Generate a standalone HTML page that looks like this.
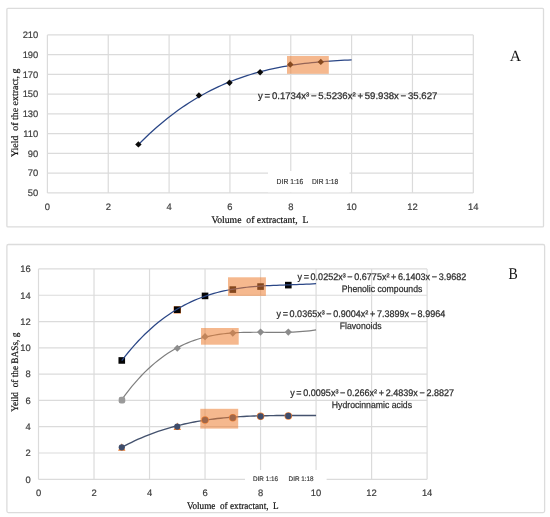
<!DOCTYPE html>
<html lang="en"><head><meta charset="utf-8"><title>Figure</title>
<style>html,body{margin:0;padding:0;background:#fff}body{width:550px;height:517px;overflow:hidden}</style></head>
<body>
<svg width="550" height="517" viewBox="0 0 550 517" style="display:block" text-rendering="geometricPrecision">
<rect width="550" height="517" fill="#fff"/>
<rect x="6.9" y="8.3" width="536.6" height="218.6" rx="1" fill="#fff" stroke="#dcdcdc" stroke-width="1.3"/>
<rect x="6.9" y="244.5" width="537.7" height="268.1" rx="1.5" fill="#fff" stroke="#dcdcdc" stroke-width="1.3"/>
<g stroke="#dbdbdb" stroke-width="1.2" fill="none">
<line x1="47.40" x2="473.30" y1="192.90" y2="192.90"/>
<line x1="47.40" x2="473.30" y1="173.16" y2="173.16"/>
<line x1="47.40" x2="473.30" y1="153.41" y2="153.41"/>
<line x1="47.40" x2="473.30" y1="133.67" y2="133.67"/>
<line x1="47.40" x2="473.30" y1="113.93" y2="113.93"/>
<line x1="47.40" x2="473.30" y1="94.18" y2="94.18"/>
<line x1="47.40" x2="473.30" y1="74.44" y2="74.44"/>
<line x1="47.40" x2="473.30" y1="54.69" y2="54.69"/>
<line x1="47.40" x2="473.30" y1="34.95" y2="34.95"/>
<line x1="47.40" x2="47.40" y1="34.95" y2="192.90"/>
<line x1="108.24" x2="108.24" y1="34.95" y2="192.90"/>
<line x1="169.09" x2="169.09" y1="34.95" y2="192.90"/>
<line x1="229.93" x2="229.93" y1="34.95" y2="192.90"/>
<line x1="290.77" x2="290.77" y1="34.95" y2="192.90"/>
<line x1="351.61" x2="351.61" y1="34.95" y2="192.90"/>
<line x1="412.46" x2="412.46" y1="34.95" y2="192.90"/>
<line x1="473.30" x2="473.30" y1="34.95" y2="192.90"/>
</g>
<g stroke="#dbdbdb" stroke-width="1.2" fill="none">
<line x1="38.50" x2="427.10" y1="479.30" y2="479.30"/>
<line x1="38.50" x2="427.10" y1="453.01" y2="453.01"/>
<line x1="38.50" x2="427.10" y1="426.71" y2="426.71"/>
<line x1="38.50" x2="427.10" y1="400.42" y2="400.42"/>
<line x1="38.50" x2="427.10" y1="374.12" y2="374.12"/>
<line x1="38.50" x2="427.10" y1="347.83" y2="347.83"/>
<line x1="38.50" x2="427.10" y1="321.54" y2="321.54"/>
<line x1="38.50" x2="427.10" y1="295.24" y2="295.24"/>
<line x1="38.50" x2="427.10" y1="268.95" y2="268.95"/>
<line x1="38.50" x2="38.50" y1="268.95" y2="479.30"/>
<line x1="94.01" x2="94.01" y1="268.95" y2="479.30"/>
<line x1="149.53" x2="149.53" y1="268.95" y2="479.30"/>
<line x1="205.04" x2="205.04" y1="268.95" y2="479.30"/>
<line x1="260.56" x2="260.56" y1="268.95" y2="479.30"/>
<line x1="316.07" x2="316.07" y1="268.95" y2="479.30"/>
<line x1="371.59" x2="371.59" y1="268.95" y2="479.30"/>
<line x1="427.10" x2="427.10" y1="268.95" y2="479.30"/>
</g>
<rect x="268" y="171" width="81.5" height="21.3" fill="#fff"/>
<rect x="245" y="470" width="81.6" height="15" fill="#fff"/>
<g font-family='"Liberation Sans", sans-serif' font-size="9.4" fill="#3c3c3c" stroke="#3c3c3c" stroke-width="0.2">
<text transform="translate(38.30,196.10) scale(1,1)" text-anchor="end">50</text>
<text transform="translate(38.30,176.36) scale(1,1)" text-anchor="end">70</text>
<text transform="translate(38.30,156.61) scale(1,1)" text-anchor="end">90</text>
<text transform="translate(38.30,136.87) scale(1,1)" text-anchor="end">110</text>
<text transform="translate(38.30,117.13) scale(1,1)" text-anchor="end">130</text>
<text transform="translate(38.30,97.38) scale(1,1)" text-anchor="end">150</text>
<text transform="translate(38.30,77.64) scale(1,1)" text-anchor="end">170</text>
<text transform="translate(38.30,57.89) scale(1,1)" text-anchor="end">190</text>
<text transform="translate(38.30,38.15) scale(1,1)" text-anchor="end">210</text>
<text transform="translate(47.40,209.50) scale(1,1)" text-anchor="middle">0</text>
<text transform="translate(108.24,209.50) scale(1,1)" text-anchor="middle">2</text>
<text transform="translate(169.09,209.50) scale(1,1)" text-anchor="middle">4</text>
<text transform="translate(229.93,209.50) scale(1,1)" text-anchor="middle">6</text>
<text transform="translate(290.77,209.50) scale(1,1)" text-anchor="middle">8</text>
<text transform="translate(351.61,209.50) scale(1,1)" text-anchor="middle">10</text>
<text transform="translate(412.46,209.50) scale(1,1)" text-anchor="middle">12</text>
<text transform="translate(473.30,209.50) scale(1,1)" text-anchor="middle">14</text>
<text transform="translate(30.60,482.60) scale(1,1)" text-anchor="end">0</text>
<text transform="translate(30.60,456.31) scale(1,1)" text-anchor="end">2</text>
<text transform="translate(30.60,430.01) scale(1,1)" text-anchor="end">4</text>
<text transform="translate(30.60,403.72) scale(1,1)" text-anchor="end">6</text>
<text transform="translate(30.60,377.43) scale(1,1)" text-anchor="end">8</text>
<text transform="translate(30.60,351.13) scale(1,1)" text-anchor="end">10</text>
<text transform="translate(30.60,324.84) scale(1,1)" text-anchor="end">12</text>
<text transform="translate(30.60,298.54) scale(1,1)" text-anchor="end">14</text>
<text transform="translate(30.60,272.25) scale(1,1)" text-anchor="end">16</text>
<text transform="translate(38.50,495.90) scale(1,1)" text-anchor="middle">0</text>
<text transform="translate(94.01,495.90) scale(1,1)" text-anchor="middle">2</text>
<text transform="translate(149.53,495.90) scale(1,1)" text-anchor="middle">4</text>
<text transform="translate(205.04,495.90) scale(1,1)" text-anchor="middle">6</text>
<text transform="translate(260.56,495.90) scale(1,1)" text-anchor="middle">8</text>
<text transform="translate(316.07,495.90) scale(1,1)" text-anchor="middle">10</text>
<text transform="translate(371.59,495.90) scale(1,1)" text-anchor="middle">12</text>
<text transform="translate(427.10,495.90) scale(1,1)" text-anchor="middle">14</text>
</g>
<g font-family='"Liberation Serif", serif' font-size="9.9" fill="#111" stroke="#111" stroke-width="0.2">
<text x="211.4" y="223" textLength="97" lengthAdjust="spacingAndGlyphs" xml:space="preserve">Volume  of extractant,  L</text>
<text x="187" y="509.4" textLength="91.7" lengthAdjust="spacingAndGlyphs" xml:space="preserve">Volume  of extractant,  L</text>
<text transform="translate(18.3,157) rotate(-90)" textLength="88.4" lengthAdjust="spacingAndGlyphs" xml:space="preserve">Yield  of the extract, g</text>
<text transform="translate(18.3,411.7) rotate(-90)" textLength="79" lengthAdjust="spacingAndGlyphs" xml:space="preserve">Yeild  of the BASs, g</text>
</g>
<text x="509.8" y="60.5" font-family='"Liberation Serif", serif' font-size="15.7" fill="#111">A</text>
<text transform="translate(508.5,279.3) scale(0.84,1)" font-family='"Liberation Serif", serif' font-size="16.5" fill="#111">B</text>
<polyline points="138.66,144.37 142.27,140.74 145.88,137.22 149.49,133.80 153.10,130.49 156.71,127.28 160.32,124.17 163.93,121.17 167.54,118.26 171.15,115.44 174.76,112.73 178.37,110.10 181.98,107.57 185.59,105.12 189.19,102.77 192.80,100.50 196.41,98.31 200.02,96.21 203.63,94.19 207.24,92.24 210.85,90.38 214.46,88.59 218.07,86.87 221.68,85.23 225.29,83.66 228.90,82.15 232.51,80.72 236.12,79.35 239.73,78.04 243.33,76.80 246.94,75.61 250.55,74.49 254.16,73.42 257.77,72.40 261.38,71.45 264.99,70.54 268.60,69.68 272.21,68.87 275.82,68.11 279.43,67.39 283.04,66.72 286.65,66.08 290.26,65.49 293.87,64.93 297.47,64.42 301.08,63.93 304.69,63.48 308.30,63.06 311.91,62.67 315.52,62.31 319.13,61.97 322.74,61.66 326.35,61.37 329.96,61.10 333.57,60.85 337.18,60.62 340.79,60.40 344.40,60.20 348.00,60.01 351.61,59.83" fill="none" stroke="#2a4686" stroke-width="1.25"/>
<path d="M135.20,144.40 L138.40,141.20 L141.60,144.40 L138.40,147.60Z" fill="#0a0a0a"/>
<path d="M195.70,95.40 L198.90,92.20 L202.10,95.40 L198.90,98.60Z" fill="#0a0a0a"/>
<path d="M226.30,82.70 L229.50,79.50 L232.70,82.70 L229.50,85.90Z" fill="#0a0a0a"/>
<path d="M256.90,72.30 L260.10,69.10 L263.30,72.30 L260.10,75.50Z" fill="#0a0a0a"/>
<path d="M287.10,64.50 L290.30,61.30 L293.50,64.50 L290.30,67.70Z" fill="#0a0a0a"/>
<path d="M317.60,61.90 L320.80,58.70 L324.00,61.90 L320.80,65.10Z" fill="#0a0a0a"/>
<polyline points="121.77,399.69 125.06,395.16 128.36,390.84 131.65,386.71 134.94,382.79 138.24,379.05 141.53,375.51 144.82,372.14 148.12,368.96 151.41,365.95 154.70,363.10 158.00,360.42 161.29,357.90 164.58,355.53 167.88,353.32 171.17,351.24 174.46,349.31 177.76,347.51 181.05,345.84 184.34,344.29 187.64,342.87 190.93,341.56 194.22,340.36 197.52,339.27 200.81,338.28 204.10,337.39 207.40,336.58 210.69,335.87 213.98,335.23 217.27,334.67 220.57,334.19 223.86,333.77 227.15,333.42 230.45,333.12 233.74,332.87 237.03,332.68 240.33,332.52 243.62,332.41 246.91,332.33 250.21,332.28 253.50,332.25 256.79,332.24 260.09,332.25 263.38,332.26 266.67,332.28 269.97,332.31 273.26,332.32 276.55,332.33 279.85,332.32 283.14,332.29 286.43,332.24 289.73,332.16 293.02,332.05 296.31,331.90 299.61,331.71 302.90,331.46 306.19,331.17 309.48,330.82 312.78,330.40 316.07,329.92" fill="none" stroke="#7f7f7f" stroke-width="1.2"/>
<polyline points="121.77,447.33 125.06,445.58 128.36,443.90 131.65,442.27 134.94,440.71 138.24,439.22 141.53,437.78 144.82,436.40 148.12,435.08 151.41,433.82 154.70,432.61 158.00,431.46 161.29,430.36 164.58,429.31 167.88,428.32 171.17,427.37 174.46,426.47 177.76,425.62 181.05,424.81 184.34,424.05 187.64,423.33 190.93,422.65 194.22,422.01 197.52,421.41 200.81,420.85 204.10,420.33 207.40,419.84 210.69,419.38 213.98,418.96 217.27,418.57 220.57,418.21 223.86,417.88 227.15,417.58 230.45,417.31 233.74,417.06 237.03,416.83 240.33,416.63 243.62,416.45 246.91,416.29 250.21,416.15 253.50,416.03 256.79,415.92 260.09,415.83 263.38,415.76 266.67,415.69 269.97,415.64 273.26,415.60 276.55,415.57 279.85,415.55 283.14,415.53 286.43,415.52 289.73,415.51 293.02,415.51 296.31,415.50 299.61,415.50 302.90,415.50 306.19,415.49 309.48,415.49 312.78,415.47 316.07,415.45" fill="none" stroke="#44526e" stroke-width="1.4"/>
<rect x="118.47" y="357.15" width="6.6" height="6.6" fill="#050505"/>
<rect x="173.59" y="306.31" width="7.3999999999999995" height="7.199999999999999" fill="#ed7d31"/>
<rect x="173.99" y="306.41" width="6.6" height="6.6" fill="#050505"/>
<rect x="201.74" y="292.60" width="6.6" height="6.6" fill="#050505"/>
<rect x="229.50" y="286.29" width="6.6" height="6.6" fill="#050505"/>
<rect x="257.26" y="283.27" width="6.6" height="6.6" fill="#050505"/>
<rect x="285.01" y="281.82" width="6.6" height="6.6" fill="#050505"/>
<polyline points="121.77,360.51 125.06,356.29 128.36,352.24 131.65,348.35 134.94,344.62 138.24,341.03 141.53,337.60 144.82,334.32 148.12,331.18 151.41,328.18 154.70,325.31 158.00,322.58 161.29,319.98 164.58,317.51 167.88,315.16 171.17,312.93 174.46,310.82 177.76,308.82 181.05,306.94 184.34,305.16 187.64,303.48 190.93,301.90 194.22,300.42 197.52,299.04 200.81,297.74 204.10,296.54 207.40,295.41 210.69,294.37 213.98,293.40 217.27,292.51 220.57,291.69 223.86,290.93 227.15,290.24 230.45,289.61 233.74,289.04 237.03,288.52 240.33,288.05 243.62,287.63 246.91,287.25 250.21,286.92 253.50,286.62 256.79,286.35 260.09,286.12 263.38,285.91 266.67,285.73 269.97,285.56 273.26,285.42 276.55,285.29 279.85,285.17 283.14,285.06 286.43,284.95 289.73,284.84 293.02,284.73 296.31,284.61 299.61,284.49 302.90,284.35 306.19,284.20 309.48,284.03 312.78,283.83 316.07,283.61" fill="none" stroke="#2a4686" stroke-width="1.25"/>
<rect x="118.67" y="396.86" width="6.6" height="6.6" rx="2.2" fill="#9a9a9a"/>
<path d="M173.69,348.23 L177.29,344.63 L180.89,348.23 L177.29,351.83Z" fill="#8c8c8c"/>
<path d="M201.44,336.66 L205.04,333.06 L208.64,336.66 L205.04,340.26Z" fill="#8c8c8c"/>
<path d="M229.20,333.11 L232.80,329.51 L236.40,333.11 L232.80,336.71Z" fill="#8c8c8c"/>
<path d="M256.96,332.06 L260.56,328.45 L264.16,332.06 L260.56,335.66Z" fill="#8c8c8c"/>
<path d="M284.71,332.06 L288.31,328.45 L291.91,332.06 L288.31,335.66Z" fill="#8c8c8c"/>
<path d="M121.77,443.35 L125.47,450.65 L118.07,450.65Z" fill="#ed7d31"/>
<circle cx="121.77" cy="447.35" r="3.1" fill="#3f4d6b"/>
<path d="M177.29,422.58 L180.99,429.88 L173.59,429.88Z" fill="#ed7d31"/>
<circle cx="177.29" cy="426.58" r="3.1" fill="#3f4d6b"/>
<circle cx="205.04" cy="420.01" r="3.75" fill="#ed7d31"/>
<circle cx="205.04" cy="420.01" r="3.1" fill="#3f4d6b"/>
<circle cx="232.80" cy="417.64" r="3.75" fill="#ed7d31"/>
<circle cx="232.80" cy="417.64" r="3.1" fill="#3f4d6b"/>
<circle cx="260.56" cy="416.33" r="3.75" fill="#ed7d31"/>
<circle cx="260.56" cy="416.33" r="3.1" fill="#3f4d6b"/>
<circle cx="288.31" cy="415.93" r="3.75" fill="#ed7d31"/>
<circle cx="288.31" cy="415.93" r="3.1" fill="#3f4d6b"/>
<rect x="287" y="56" width="41.8" height="17.8" fill="#ed7d31" fill-opacity="0.55"/>
<rect x="228" y="277.3" width="37.9" height="18.6" fill="#ed7d31" fill-opacity="0.55"/>
<rect x="201" y="328" width="37.7" height="16.7" fill="#ed7d31" fill-opacity="0.55"/>
<rect x="200.3" y="408.8" width="37.9" height="19.8" fill="#ed7d31" fill-opacity="0.55"/>
<g font-family='"Liberation Sans", sans-serif' font-size="9.6" fill="#2e2e2e" stroke="#2e2e2e" stroke-width="0.25" word-spacing="-0.9">
<text x="258" y="99.3"  textLength="179.3" lengthAdjust="spacingAndGlyphs">y = 0.1734x³ − 5.5236x² + 59.938x − 35.627</text>
<text x="297.5" y="279.6"  textLength="168.8" lengthAdjust="spacingAndGlyphs">y = 0.0252x³ − 0.6775x² + 6.1403x − 3.9682</text>
<text x="341.8" y="291.9" font-size="9.4" word-spacing="0" textLength="80.5" lengthAdjust="spacingAndGlyphs">Phenolic compounds</text>
<text x="276.5" y="316.9"  textLength="168.7" lengthAdjust="spacingAndGlyphs">y = 0.0365x³ − 0.9004x² + 7.3899x − 8.9964</text>
<text x="339.8" y="328.7" font-size="9.4" word-spacing="0" textLength="41.7" lengthAdjust="spacingAndGlyphs">Flavonoids</text>
<text x="290.2" y="396.3"  textLength="163.8" lengthAdjust="spacingAndGlyphs">y = 0.0095x³ − 0.266x² + 2.4839x − 2.8827</text>
<text x="331.8" y="407.5" font-size="9.4" word-spacing="0" textLength="80.2" lengthAdjust="spacingAndGlyphs">Hydrocinnamic acids</text>
</g>
<g font-family='"Liberation Sans", sans-serif' font-size="7" fill="#2e2e2e" stroke="#2e2e2e" stroke-width="0.15">
<text x="276.6" y="184.3" font-size="7.3" textLength="26.8" lengthAdjust="spacingAndGlyphs">DIR 1:16</text>
<text x="312" y="184.3" font-size="7.3" textLength="26.2" lengthAdjust="spacingAndGlyphs">DIR 1:18</text>
<text x="253" y="481.0" font-size="6.7" textLength="25.0" lengthAdjust="spacingAndGlyphs">DIR 1:16</text>
<text x="288.6" y="481.0" font-size="6.7" textLength="25.0" lengthAdjust="spacingAndGlyphs">DIR 1:18</text>
</g>
</svg>
</body></html>
